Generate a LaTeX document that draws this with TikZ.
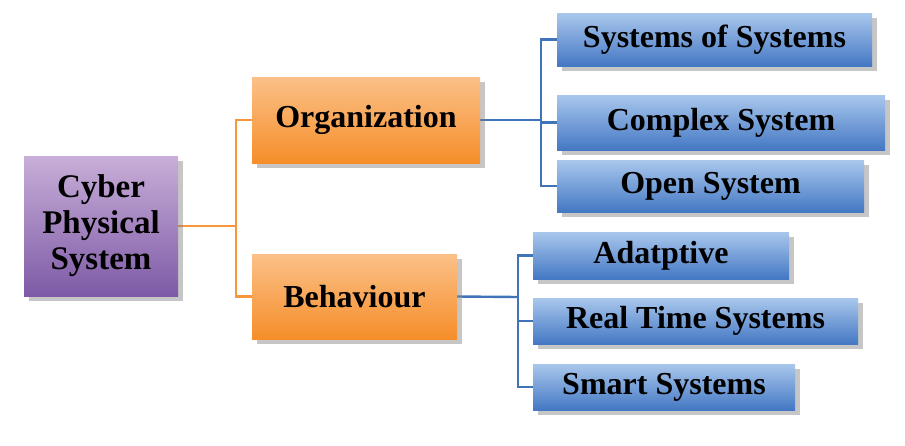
\documentclass[tikz,border=0pt]{standalone}
\usepackage{fontspec}
\setmainfont{Liberation Serif}
\usetikzlibrary{shadows,backgrounds}
\definecolor{purT}{HTML}{C8AED8}\definecolor{purB}{HTML}{7E5AA6}
\definecolor{orT}{HTML}{FBC088}\definecolor{orB}{HTML}{F68E2A}
\definecolor{blT}{HTML}{A9C7EC}\definecolor{blB}{HTML}{4478C4}
\definecolor{orL}{HTML}{F7963A}\definecolor{blL}{HTML}{3F74B8}
\tikzset{
 base/.style={inner sep=0pt,align=center,font=\fontsize{32}{32}\selectfont\bfseries,drop shadow={shadow xshift=5pt,shadow yshift=-5pt,opacity=0.45}},
 pbox/.style={base,top color=purT,bottom color=purB},
 obox/.style={base,top color=orT,bottom color=orB},
 bbox/.style={base,top color=blT,bottom color=blB},
 ol/.style={orL,line width=2.4pt},
 bl/.style={blL,line width=2.4pt}
}
\begin{document}
\begin{tikzpicture}[x=1pt,y=-1pt]
\useasboundingbox (0,0) rectangle (905,445);
\node[pbox,minimum width=154pt,minimum height=140pt,font=\fontsize{33}{36}\selectfont\bfseries] (cy) at (101,226) {Cyber\\Physical\\System};
\node[obox,minimum width=228pt,minimum height=86pt] (org) at (366,120) {Organization};
\node[obox,minimum width=205pt,minimum height=85pt] (beh) at (354.5,296.5) {Behaviour};
\node[bbox,minimum width=315pt,minimum height=53pt] (sos) at (714.5,39.5) {Systems of Systems};
\node[bbox,minimum width=328pt,minimum height=55pt] (cs) at (721,122.5) {Complex System};
\node[bbox,minimum width=307pt,minimum height=52pt] (os) at (710.5,186) {Open System};
\node[bbox,minimum width=256pt,minimum height=47pt] (ad) at (661,255.5) {Adatptive};
\node[bbox,minimum width=325pt,minimum height=46pt] (rt) at (695.5,321) {Real Time Systems};
\node[bbox,minimum width=262pt,minimum height=46pt] (ss) at (664,387) {Smart Systems};
\coordinate (j0) at (236,226);
\coordinate (j1) at (541,120);
\coordinate (j2) at (518,297);
\begin{scope}[on background layer]
\draw[ol] (cy.east) -- (j0);
\draw[ol] (j0) |- (org.west);
\draw[ol] (j0) |- (beh.west);
\draw[bl] (org.east) -- (j1);
\draw[bl] (j1) |- (sos.west);
\draw[bl] (j1) |- (cs.west);
\draw[bl] (j1) |- (os.west);
\draw[bl] (beh.east) -- (j2);
\draw[bl] (j2) |- (ad.west);
\draw[bl] (j2) |- (rt.west);
\draw[bl] (j2) |- (ss.west);
\end{scope}
\end{tikzpicture}
\end{document}
